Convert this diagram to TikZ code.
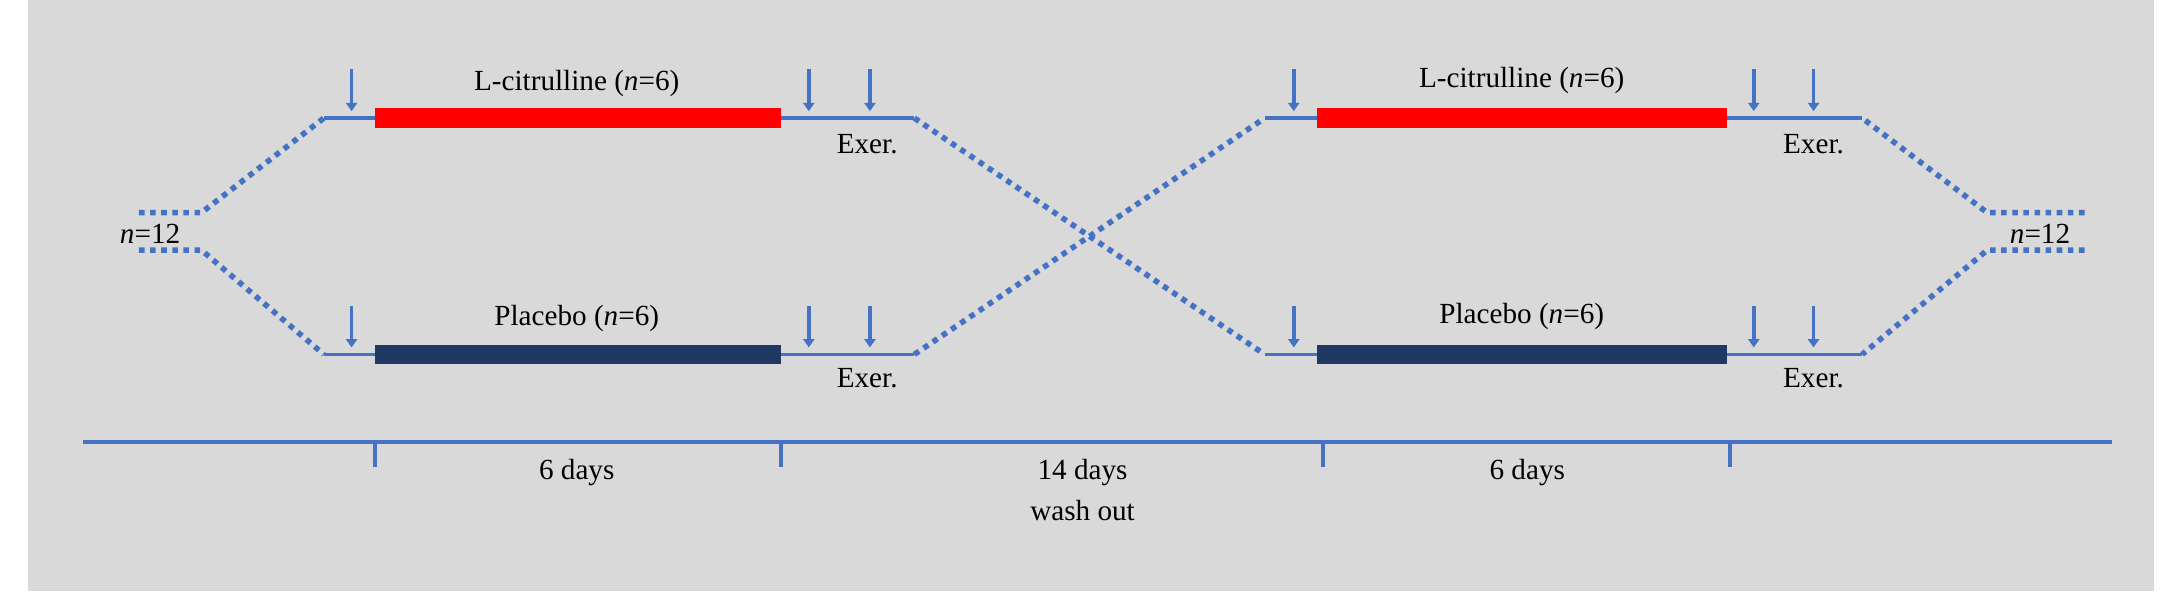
\documentclass[tikz,border=0pt]{standalone}
\usepackage{fontspec}
\setmainfont{Liberation Serif}
\begin{document}
\begin{tikzpicture}[x=1pt,y=-1pt,
  every node/.style={font=\fontsize{21}{24}\selectfont,inner sep=1pt},
  thin line/.style={draw=bl,line width=2.5},
  dotline/.style={draw=bl,line width=4,dash pattern=on 4 off 4},
  bar/.style={line width=14},
  marker/.style={draw=bl,line width=2.5,-{Triangle[length=6,width=8]}}]
\definecolor{bl}{RGB}{68,114,196}
\definecolor{nv}{RGB}{31,56,100}
\usetikzlibrary{arrows.meta}
\useasboundingbox (0,0) rectangle (1568,429);
\fill[fill={rgb,255:red,217;green,217;blue,217}] (20,0) rectangle (1550,425);
\coordinate (L1) at (100,153); \coordinate (L1b) at (145,153);
\coordinate (L2) at (100,180); \coordinate (L2b) at (145,180);
\foreach \s/\y in {T/85,B/255}{
  \coordinate (\s a) at (233,\y); \coordinate (\s b) at (270,\y);
  \coordinate (\s c) at (562,\y); \coordinate (\s d) at (658,\y);
  \coordinate (\s e) at (910,\y); \coordinate (\s f) at (948,\y);
  \coordinate (\s g) at (1243,\y); \coordinate (\s h) at (1340,\y);
}
\coordinate (R1b) at (1430,153); \coordinate (R1) at (1500,153);
\coordinate (R2b) at (1430,180); \coordinate (R2) at (1500,180);
\draw[dotline] (L1) -- (L1b) -- (Ta);
\draw[dotline] (L2) -- (L2b) -- (Ba);
\node (n1) at (108,168) {\textit{n}=12};
\node (n2) at (1468,168) {\textit{n}=12};
\draw[dotline] (R1) -- (R1b) -- (Th);
\draw[dotline] (R2) -- (R2b) -- (Bh);
\foreach \s in {T,B}{
  \draw[thin line] (\s a) -- (\s b); \draw[thin line] (\s c) -- (\s d);
  \draw[thin line] (\s e) -- (\s f); \draw[thin line] (\s g) -- (\s h);
}
\draw[bar,draw=red] (Tb) -- (Tc);
\draw[bar,draw=nv] (Bb) -- (Bc);
\draw[bar,draw=red] (Tf) -- (Tg);
\draw[bar,draw=nv] (Bf) -- (Bg);
\draw[dotline] (Td) -- (Be);
\draw[dotline] (Bd) -- (Te);
\foreach \x in {253,582,626,931,1262,1305}{
  \draw[marker] (\x,50) -- (\x,80);
  \draw[marker] (\x,220) -- (\x,250);
}
\node (c1) at (415,60) {L-citrulline (\textit{n}=6)};
\node (p1) at (415,229) {Placebo (\textit{n}=6)};
\node (c2) at (1095,58) {L-citrulline (\textit{n}=6)};
\node (p2) at (1095,228) {Placebo (\textit{n}=6)};
\node (e1) at (624,104) {Exer.};
\node (e2) at (624,272) {Exer.};
\node (e3) at (1305,104) {Exer.};
\node (e4) at (1305,272) {Exer.};
\coordinate (t0) at (60,318); \coordinate (t1) at (1520,318);
\draw[thin line] (t0) -- (t1);
\foreach \x in {270,562,952,1245}{\draw[thin line] (\x,318) -- (\x,336);}
\node (d1) at (415,340) {6 days};
\node (d2) at (779,340) {14 days};
\node (d3) at (779,367) {wash out};
\node (d4) at (1099,340) {6 days};
\end{tikzpicture}
\end{document}
